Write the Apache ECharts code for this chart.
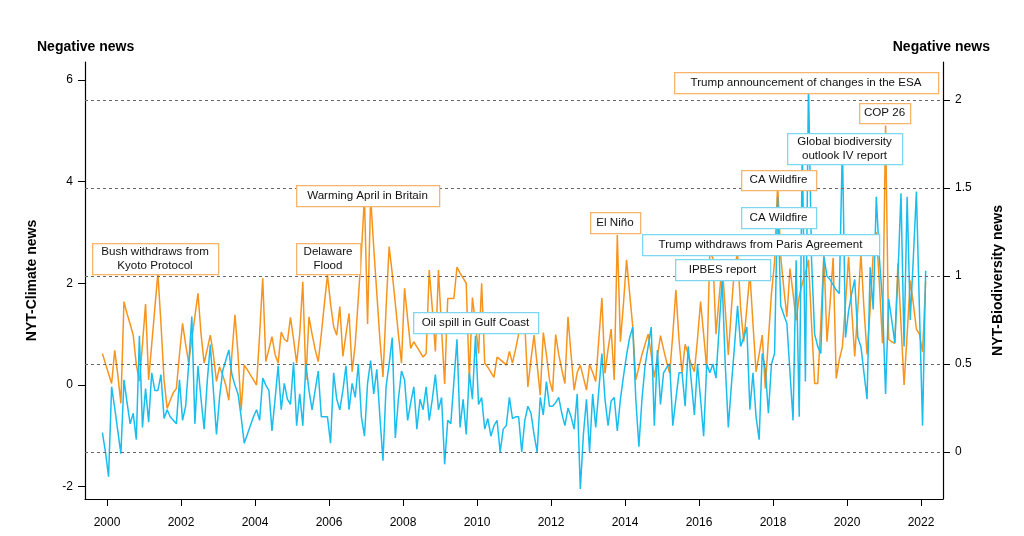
<!DOCTYPE html>
<html>
<head>
<meta charset="utf-8">
<script src="https://cdn.jsdelivr.net/npm/echarts@6/dist/echarts.min.js"></script>
<style>
  html, body { margin: 0; padding: 0; background: #fff; }
  #chart { width: 1024px; height: 536px; }
</style>
</head>
<body>
<div id="chart"></div>
<script>
// monthly series, first month = Nov 1999
var startYear = 1999, startMonth = 11;

// NYT-Climate news (left axis)
var climate = [
  0.62, 0.42, 0.22, 0.03, 0.68, 0.2, -0.36, 1.64, 1.4, 1.2, 0.98, 0.4, 0.07, 0.8, 1.59, 0.1, 0.8, 1.5, 2.2, 1.2,
  0.1, -0.46, -0.3, -0.15, -0.07, 0.6, 1.21, 0.8, 0.43, 0.9, 1.35, 1.8, 1.0, 0.43, 0.7, 0.98, 0.6, 0.07, 0.36, 0.2,
  0.0, -0.3, 0.6, 1.38, 0.6, -0.5, 0.39, 0.3, 0.2, 0.1, 0.0, 1.0, 2.1, 0.46, 0.7, 0.95, 0.6, 0.43, 1.04, 0.9,
  0.85, 1.33, 0.9, 0.43, 1.0, 2.03, 0.1, 1.34, 1.0, 0.7, 0.46, 1.0, 1.6, 2.16, 1.6, 1.15, 0.98, 1.54, 0.56, 1.0,
  1.41, 0.26, 0.8, 1.7, 2.6, 3.7, 1.2, 3.7, 2.7, 1.8, 0.9, 0.16, 1.5, 2.72, 2.2, 1.6, 1.0, 0.43, 1.9, 1.3,
  0.72, 0.85, 0.75, 0.65, 0.55, 0.62, 2.26, 1.5, 0.66, 2.26, 1.1, 0.02, 1.7, 1.7, 1.7, 2.32, 2.2, 2.1, 2.0, 0.1,
  1.72, 1.2, 0.62, 2.0, 0.43, 0.35, 0.25, 0.15, 0.55, 0.5, 0.45, 0.39, 0.66, 0.43, 0.7, 1.0, 1.28, 1.2, -0.04, 0.5,
  0.98, 0.4, -0.2, 1.03, 0.6, 0.1, -0.13, 0.99, 0.6, 0.3, 0.03, 1.34, 0.6, -0.1, 0.25, 0.39, 0.15, -0.1, 0.4, 0.25,
  0.07, 0.9, 1.71, 0.23, 0.7, 1.1, 0.1, 2.95, 0.85, 1.6, 2.46, 1.8, 1.15, 0.1, 0.35, 0.6, 0.8, 1.0, 0.6, 0.15,
  0.55, 0.97, 0.7, 0.45, 0.23, 1.0, 1.87, 0.9, 0.23, 0.8, 0.6, 0.4, 0.26, 0.9, 1.64, 1.0, 0.31, 2.6, 2.5, 1.0,
  1.7, 2.38, 1.5, 0.59, 1.5, 2.3, 2.6, 1.5, 0.85, 1.5, 2.2, 1.2, 0.26, 0.6, 0.98, -0.07, 0.9, 1.8, 2.42, 3.95,
  2.52, 1.9, 1.34, 2.29, 1.8, 1.27, 1.74, 2.0, 2.2, 2.46, 1.2, 0.03, 0.03, 1.2, 2.59, 0.85, 1.6, 2.5, 0.13, 0.5,
  0.75, 1.6, 2.52, 1.5, 0.56, 1.5, 2.59, 1.5, 0.6, 1.5, 2.6, 3.0, 2.0, 0.82, 5.1, 0.9, 0.85, 0.82, 2.39, 1.2,
  0.0, 1.0, 2.05, 1.6, 1.1, 1.0, 0.65, 2.03
];

// NYT-Biodiversity news (right axis)
var biodiversity = [
  0.11, 0.0, -0.14, 0.37, 0.25, 0.12, -0.01, 0.41, 0.28, 0.16, 0.22, 0.07, 0.66, 0.14, 0.36, 0.17, 0.45, 0.35, 0.35, 0.44,
  0.19, 0.24, 0.2, 0.18, 0.16, 0.41, 0.18, 0.26, 0.5, 0.77, 0.16, 0.49, 0.3, 0.13, 0.4, 0.61, 0.35, 0.1, 0.31, 0.46,
  0.52, 0.58, 0.44, 0.38, 0.33, 0.2, 0.05, 0.1, 0.15, 0.2, 0.24, 0.18, 0.42, 0.38, 0.35, 0.12, 0.3, 0.49, 0.24, 0.39,
  0.3, 0.27, 0.51, 0.15, 0.33, 0.15, 0.5, 0.35, 0.24, 0.35, 0.46, 0.2, 0.2, 0.2, 0.05, 0.45, 0.3, 0.24, 0.35, 0.49,
  0.24, 0.39, 0.31, 0.5, 0.2, 0.09, 0.39, 0.52, 0.33, 0.47, 0.2, -0.05, 0.37, 0.5, 0.65, 0.08, 0.3, 0.46, 0.41, 0.18,
  0.28, 0.37, 0.13, 0.3, 0.24, 0.37, 0.18, 0.3, 0.44, 0.24, 0.31, -0.07, 0.18, 0.16, 0.4, 0.64, 0.14, 0.3, 0.1, 0.45,
  0.3, 0.66, 0.27, 0.31, 0.13, 0.19, 0.09, 0.15, 0.18, 0.0, 0.13, 0.15, 0.31, 0.19, 0.2, 0.2, 0.0, 0.18, 0.26, 0.22,
  0.1, 0.0, 0.31, 0.21, 0.4, 0.26, 0.26, 0.28, 0.31, 0.22, 0.15, 0.25, 0.2, 0.13, 0.33, -0.21, 0.1, 0.3, 0.0, 0.33,
  0.14, 0.35, 0.56, 0.3, 0.15, 0.29, 0.31, 0.12, 0.3, 0.43, 0.55, 0.65, 0.71, 0.3, 0.03, 0.3, 0.49, 0.6, 0.71, 0.15,
  0.58, 0.27, 0.45, 0.48, 0.5, 0.15, 0.3, 0.45, 0.45, 0.26, 0.6, 0.4, 0.21, 0.5, 0.3, 0.09, 0.5, 0.45, 0.5, 0.42,
  0.7, 0.98, 0.5, 0.14, 0.38, 0.6, 0.83, 0.6, 0.65, 0.71, 0.24, 0.45, 0.2, 0.07, 0.56, 0.47, 0.22, 0.5, 0.56, 1.45,
  0.83, 0.78, 0.73, 0.45, 0.18, 1.09, 0.2, 1.75, 0.4, 2.1, 1.09, 0.67, 0.6, 0.56, 1.11, 1.0, 0.98, 0.95, 0.92, 0.9,
  1.75, 0.65, 0.8, 0.9, 0.98, 0.65, 0.6, 0.45, 0.3, 1.05, 0.81, 1.45, 1.1, 0.86, 0.33, 0.87, 0.75, 0.62, 1.0, 1.47,
  0.6, 1.45, 0.75, 1.1, 1.48, 0.8, 0.15, 1.03
];

var yearTicks = [2000, 2002, 2004, 2006, 2008, 2010, 2012, 2014, 2016, 2018, 2020, 2022];
var climateTicks = [-2, 0, 2, 4, 6];
var bioTicks = [0, 0.5, 1, 1.5, 2];

// event annotations: [text, box left, top, width, height, colour]
var orangeBox = '#F8B46A', blueBox = '#7DD6F2';
var notes = [
  ['Bush withdraws from\nKyoto Protocol', 92, 243, 126, 31, orangeBox],
  ['Delaware\nFlood', 296, 243, 64, 31, orangeBox],
  ['Warming April in Britain', 296, 185, 143, 21, orangeBox],
  ['Oil spill in Gulf Coast', 413, 312, 125, 21, blueBox],
  ['El Ni\u00f1o', 590, 212, 50, 21, orangeBox],
  ['Trump withdraws from Paris Agreement', 642, 234, 237, 21, blueBox],
  ['IPBES report', 675, 259, 95, 21, blueBox],
  ['CA Wildfire', 741, 170, 75, 20, orangeBox],
  ['CA Wildfire', 741, 207, 75, 21, blueBox],
  ['Global biodiversity\noutlook IV report', 787, 133, 115, 31, blueBox],
  ['Trump announcement of changes in the ESA', 674, 72, 264, 21, orangeBox],
  ['COP 26', 859, 103, 51, 20, orangeBox]
];

function toPairs(values) {
  return values.map(function (v, i) {
    var t = startYear + (startMonth - 1 + i + 0.5) / 12;
    return [t, v];
  });
}

var font = "'Liberation Sans', Arial, sans-serif";

var graphics = [
  { type: 'text', left: 37, top: 40, z: 100, style: { text: 'Negative news', font: 'bold 14px ' + font, fill: '#000' } },
  { type: 'text', right: 34, top: 40, z: 100, style: { text: 'Negative news', font: 'bold 14px ' + font, fill: '#000' } }
];
notes.forEach(function (n) {
  graphics.push({
    type: 'rect', left: n[1], top: n[2], z: 100,
    shape: { x: 0, y: 0, width: n[3], height: n[4] },
    style: { fill: '#fff', stroke: n[5], lineWidth: 1.3 }
  });
  graphics.push({
    type: 'text', x: n[1] + n[3] / 2, y: n[2] + n[4] / 2, z: 101,
    style: { text: n[0], font: '11.6px ' + font, fill: '#111', align: 'center', verticalAlign: 'middle', lineHeight: 14 }
  });
});

var myChart = echarts.init(document.getElementById('chart'), null, { renderer: 'canvas' });

var option = {
  backgroundColor: '#fff',
  animation: false,
  grid: { left: 85, right: 81, top: 62, bottom: 37 },
  xAxis: {
    type: 'value',
    min: 1999.405,
    max: 2022.594,
    axisLine: { show: true, onZero: false, lineStyle: { color: '#000', width: 1.2 } },
    axisTick: { show: true, customValues: yearTicks, length: 7, lineStyle: { color: '#000' } },
    axisLabel: { customValues: yearTicks, margin: 18, fontSize: 12, color: '#000', fontFamily: font,
      formatter: function (v) { return String(v); } },
    splitLine: { show: false }
  },
  yAxis: [{
    type: 'value',
    min: -2.241,
    max: 6.349,
    name: 'NYT-Climate news',
    nameLocation: 'middle',
    nameGap: 46,
    nameRotate: 90,
    nameTextStyle: { fontSize: 14, fontWeight: 'bold', color: '#000', fontFamily: font },
    axisLine: { show: true, onZero: false, lineStyle: { color: '#000', width: 1.2 } },
    axisTick: { show: true, customValues: climateTicks, length: 7, lineStyle: { color: '#000' } },
    axisLabel: { customValues: climateTicks, margin: 12, fontSize: 12, color: '#000', fontFamily: font },
    splitLine: { show: false }
  }, {
    type: 'value',
    position: 'right',
    min: -0.267,
    max: 2.216,
    name: 'NYT-Biodiversity news',
    nameLocation: 'middle',
    nameGap: 48,
    nameRotate: 90,
    nameTextStyle: { fontSize: 14, fontWeight: 'bold', color: '#000', fontFamily: font },
    axisLine: { show: true, onZero: false, lineStyle: { color: '#000', width: 1.2 } },
    axisTick: { show: true, customValues: bioTicks, length: 7, lineStyle: { color: '#000' } },
    axisLabel: { customValues: bioTicks, margin: 12, fontSize: 12, color: '#000', fontFamily: font },
    splitLine: { show: false }
  }],
  series: [{
    name: 'NYT-Climate news',
    type: 'line',
    yAxisIndex: 0,
    data: toPairs(climate),
    showSymbol: false,
    lineStyle: { color: '#F7941D', width: 1.5 },
    itemStyle: { color: '#F7941D' },
    z: 2
  }, {
    name: 'NYT-Biodiversity news',
    type: 'line',
    yAxisIndex: 1,
    data: toPairs(biodiversity),
    showSymbol: false,
    lineStyle: { color: '#19BDEE', width: 1.5 },
    itemStyle: { color: '#19BDEE' },
    z: 3,
    markLine: {
      silent: true,
      symbol: 'none',
      label: { show: false },
      lineStyle: { color: '#666', type: [3, 3], width: 1 },
      data: bioTicks.map(function (v) { return { yAxis: v }; })
    }
  }],
  graphic: { elements: graphics }
};

myChart.setOption(option);
</script>
</body>
</html>
